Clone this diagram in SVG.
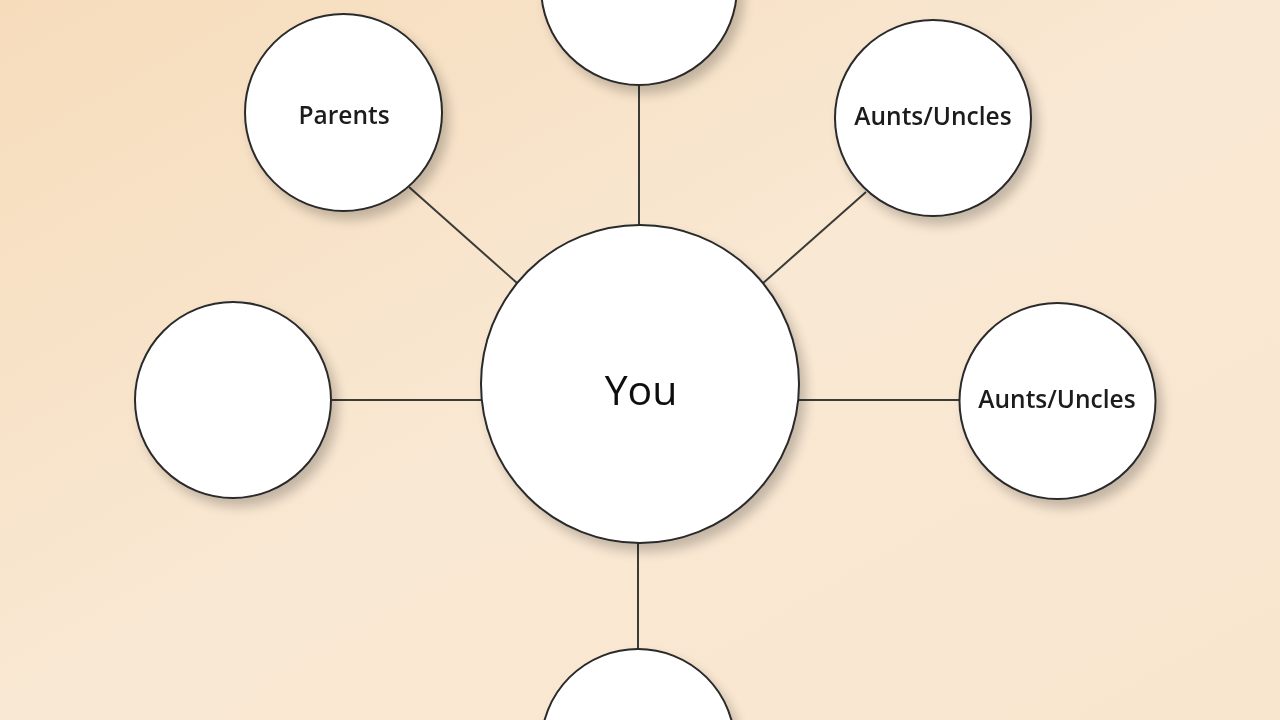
<svg xmlns="http://www.w3.org/2000/svg" width="1280" height="720" viewBox="0 0 1280 720">
  <defs>
    <linearGradient id="bg" x1="0" y1="0" x2="1" y2="1">
      <stop offset="0" stop-color="#f6dcbb"/>
      <stop offset="0.5" stop-color="#f9e8d3"/>
      <stop offset="1" stop-color="#f9e6cf"/>
    </linearGradient>
    <filter id="sh" x="-30%" y="-30%" width="160%" height="160%">
      <feGaussianBlur in="SourceAlpha" stdDeviation="6"/>
      <feOffset dx="6" dy="8" result="b"/>
      <feComponentTransfer><feFuncA type="linear" slope="0.22"/></feComponentTransfer>
      <feMerge><feMergeNode/><feMergeNode in="SourceGraphic"/></feMerge>
    </filter>
  </defs>
  <style>
    .node circle { fill: #ffffff; stroke: #2a2a2a; stroke-width: 2; }
    .conn line { stroke: #3a3a36; stroke-width: 2; }
    .lbl { font-family: "Open Sans", "Noto Sans", "Liberation Sans", sans-serif; font-weight: 600; font-size: 24.5px; fill: #1a1a1a; text-anchor: middle; }
    .you { font-family: "Open Sans", "Noto Sans", "Liberation Sans", sans-serif; font-weight: 400; font-size: 41px; fill: #111111; text-anchor: middle; }
  </style>
  <rect width="1280" height="720" fill="url(#bg)"/>
  <g id="connectors" class="conn">
    <line x1="639" y1="85" x2="639" y2="226"/>
    <line x1="409" y1="187" x2="517" y2="283"/>
    <line x1="866" y1="192" x2="762" y2="284"/>
    <line x1="332" y1="400" x2="481" y2="400"/>
    <line x1="799" y1="400" x2="959" y2="400"/>
    <line x1="638" y1="543" x2="638" y2="648"/>
  </g>
  <g id="node-top" class="node" filter="url(#sh)">
    <circle cx="639" cy="-13" r="98"/>
  </g>
  <g id="node-parents" class="node" filter="url(#sh)">
    <circle cx="343.5" cy="112.5" r="98.5"/>
    <text class="lbl" x="344" y="124">Parents</text>
  </g>
  <g id="node-aunts-top" class="node" filter="url(#sh)">
    <circle cx="933" cy="118" r="98"/>
    <text class="lbl" x="933" y="125">Aunts/Uncles</text>
  </g>
  <g id="node-left" class="node" filter="url(#sh)">
    <circle cx="233" cy="400" r="98"/>
  </g>
  <g id="node-aunts-right" class="node" filter="url(#sh)">
    <circle cx="1057.5" cy="401" r="98"/>
    <text class="lbl" x="1057" y="408">Aunts/Uncles</text>
  </g>
  <g id="node-bottom" class="node" filter="url(#sh)">
    <circle cx="638" cy="746" r="97"/>
  </g>
  <g id="node-you" class="node" filter="url(#sh)">
    <circle cx="640" cy="384" r="159"/>
    <text class="you" x="641" y="405">You</text>
  </g>
</svg>
